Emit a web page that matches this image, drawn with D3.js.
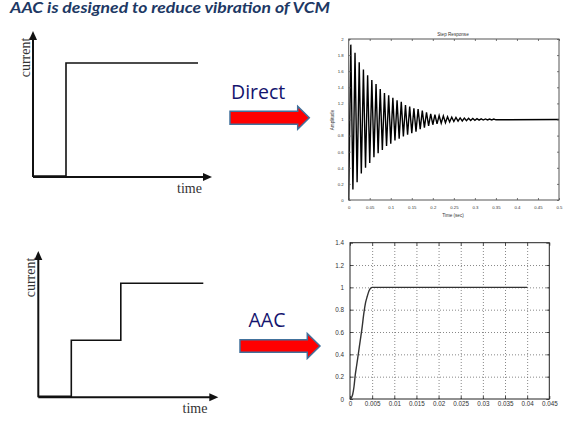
<!DOCTYPE html>
<html>
<head>
<meta charset="utf-8">
<script src="https://cdn.jsdelivr.net/npm/d3@7"></script>
<style>
body { margin: 0; background: #fff; }
svg { display: block; }
</style>
</head>
<body>
<div id="chart"></div>
<script>
// ---- data ----
var titleText = "AAC is designed to reduce vibration of VCM";

// input current shapes (time units, relative current)
var directT = [0, 1, 1, 5];
var directI = [0, 0, 1, 1];
var aacT = [0, 1, 1, 2.5, 2.5, 5];
var aacI = [0, 0, 0.5, 0.5, 1, 1];

// step response with direct drive: peaks / troughs
var stepTime = [0, 0.005, 0.01, 0.015, 0.02, 0.025, 0.03, 0.035, 0.04, 0.045, 0.05,
	0.055, 0.06, 0.065, 0.07, 0.075, 0.08, 0.085, 0.09, 0.095, 0.1,
	0.105, 0.11, 0.115, 0.12, 0.125, 0.13, 0.135, 0.14, 0.145, 0.15,
	0.155, 0.16, 0.165, 0.17, 0.175, 0.18, 0.185, 0.19, 0.195, 0.2,
	0.205, 0.21, 0.215, 0.22, 0.225, 0.23, 0.235, 0.24, 0.245, 0.25,
	0.255, 0.26, 0.265, 0.27, 0.275, 0.28, 0.285, 0.29, 0.295, 0.3,
	0.305, 0.31, 0.315, 0.32, 0.325, 0.33, 0.335, 0.34, 0.345, 0.35, 0.5];
var stepAmp = [0, 1.93, 0.13, 1.83, 0.22, 1.71, 0.33, 1.62, 0.40, 1.55, 0.46,
	1.49, 0.53, 1.44, 0.58, 1.38, 0.62, 1.33, 0.67, 1.30, 0.70,
	1.27, 0.74, 1.24, 0.76, 1.22, 0.79, 1.18, 0.81, 1.16, 0.83,
	1.14, 0.85, 1.13, 0.88, 1.11, 0.90, 1.09, 0.92, 1.07, 0.935,
	1.06, 0.945, 1.05, 0.955, 1.045, 0.96, 1.035, 0.97, 1.03, 0.975,
	1.025, 0.98, 1.02, 0.982, 1.017, 0.985, 1.014, 0.988, 1.012, 0.99,
	1.01, 0.992, 1.008, 0.993, 1.007, 0.994, 1.006, 0.995, 1.005, 0.996, 1];
var stepXTicks = [0, 0.05, 0.1, 0.15, 0.2, 0.25, 0.3, 0.35, 0.4, 0.45, 0.5];
var stepXLabels = ["0", "0.05", "0.1", "0.15", "0.2", "0.25", "0.3", "0.35", "0.4", "0.45", "0.5"];
var stepYTicks = [0, 0.2, 0.4, 0.6, 0.8, 1, 1.2, 1.4, 1.6, 1.8, 2];
var stepYLabels = ["0", "0.2", "0.4", "0.6", "0.8", "1", "1.2", "1.4", "1.6", "1.8", "2"];

// response with AAC drive
var aacRespTime = [0, 0.0003, 0.0006, 0.0009, 0.0012, 0.0015, 0.0019, 0.0023, 0.0027,
	0.0031, 0.0035, 0.0039, 0.0043, 0.0047, 0.005, 0.04];
var aacRespAmp = [0, 0.01, 0.04, 0.11, 0.22, 0.30, 0.41, 0.52, 0.63,
	0.76, 0.86, 0.92, 0.97, 0.995, 1, 1];
var aacXTicks = [0, 0.005, 0.01, 0.015, 0.02, 0.025, 0.03, 0.035, 0.04, 0.045];
var aacXLabels = ["0", "0.005", "0.01", "0.015", "0.02", "0.025", "0.03", "0.035", "0.04", "0.045"];
var aacYTicks = [0, 0.2, 0.4, 0.6, 0.8, 1, 1.2, 1.4];
var aacYLabels = ["0", "0.2", "0.4", "0.6", "0.8", "1", "1.2", "1.4"];

var svg = d3.select("#chart").append("svg")
	.attr("width", 565)
	.attr("height", 423);

svg.append("text")
	.attr("x", 10)
	.attr("y", 12.7)
	.text(titleText)
	.attr("font-family", "Lato")
	.attr("font-weight", "bold")
	.attr("font-style", "italic")
	.attr("font-size", "14.5px")
	.attr("fill", "#203864")
	.attr("textLength", 320)
	.attr("lengthAdjust", "spacingAndGlyphs");

// current vs time sketch on the left
function drawCurrent(x0, y0, xTip, yTip, times, levels, curX, curY, timeX, timeY) {
	var g = svg.append("g");
	var x = d3.scaleLinear().domain([0, 5]).range([x0, x0 + 165]);
	var y = d3.scaleLinear().domain([0, 1]).range([y0, y0 - 114]);

	g.append("line").attr("x1", x0).attr("y1", y0).attr("x2", x0).attr("y2", yTip + 6)
		.attr("stroke", "#111").attr("stroke-width", 2);
	g.append("line").attr("x1", x0).attr("y1", y0).attr("x2", xTip - 6).attr("y2", y0)
		.attr("stroke", "#111").attr("stroke-width", 2);
	g.append("path")
		.attr("d", "M" + x0 + "," + yTip + "L" + (x0 - 4) + "," + (yTip + 9) + "L" + (x0 + 4) + "," + (yTip + 9) + "Z")
		.attr("fill", "#111");
	g.append("path")
		.attr("d", "M" + xTip + "," + y0 + "L" + (xTip - 9) + "," + (y0 - 4) + "L" + (xTip - 9) + "," + (y0 + 4) + "Z")
		.attr("fill", "#111");

	var line = d3.line()
		.x(function(d, i) { return x(times[i]); })
		.y(function(d, i) { return y(levels[i]) - (levels[i] == 0 ? 1 : 0); });
	g.append("path")
		.attr("d", line(times))
		.attr("fill", "none")
		.attr("stroke", "#111")
		.attr("stroke-width", 1.6);

	g.append("text")
		.attr("transform", "translate(" + curX + "," + curY + ") rotate(-90)")
		.attr("text-anchor", "middle")
		.text("current")
		.attr("font-family", "Liberation Serif")
		.attr("font-size", "14px")
		.attr("fill", "#333");
	g.append("text")
		.attr("x", timeX)
		.attr("y", timeY)
		.text("time")
		.attr("font-family", "Liberation Serif")
		.attr("font-size", "14px")
		.attr("fill", "#333");
}

drawCurrent(33, 177, 212, 31, directT, directI, 29.5, 57.5, 177, 193);
drawCurrent(38.3, 397.3, 218.3, 251, aacT, aacI, 34.5, 277.5, 182.5, 412.5);

// block arrows with labels
function blockArrow(xl, xb, xt, yt, bh, hh, label, lx, ly) {
	var pts = [[xl, yt - bh], [xb, yt - bh], [xb, yt - hh], [xt, yt], [xb, yt + hh], [xb, yt + bh], [xl, yt + bh]];
	svg.append("polygon")
		.attr("points", pts.map(function(p) { return p.join(","); }).join(" "))
		.attr("fill", "#ff0000")
		.attr("stroke", "#41719c")
		.attr("stroke-width", 1.5);
	svg.append("text")
		.attr("x", lx)
		.attr("y", ly)
		.text(label)
		.attr("font-family", "Open Sans")
		.attr("font-size", "19.5px")
		.attr("fill", "#14146e");
}
blockArrow(230, 297.7, 309.3, 117.7, 6.5, 11.5, "Direct", 231, 99.3);
blockArrow(240, 307.3, 320, 346, 6.2, 12.5, "AAC", 248.5, 326.7);

// MATLAB-like axes frame
function frameAxes(g, x, y, xt, xl, yt, yl, fs, col, tick, padX, padY) {
	var x0 = x.range()[0], x1 = x.range()[1], y0 = y.range()[0], y1 = y.range()[1];
	g.append("g").attr("transform", "translate(0," + y0 + ")")
		.call(d3.axisBottom(x).tickValues(xt).tickFormat(function(d, i) { return xl[i]; })
			.tickSizeInner(-tick).tickSizeOuter(0).tickPadding(padX));
	g.append("g").attr("transform", "translate(" + x0 + ",0)")
		.call(d3.axisLeft(y).tickValues(yt).tickFormat(function(d, i) { return yl[i]; })
			.tickSizeInner(-tick).tickSizeOuter(0).tickPadding(padY));
	g.append("g").attr("transform", "translate(0," + y1 + ")")
		.call(d3.axisTop(x).tickValues(xt).tickFormat("").tickSizeInner(-tick).tickSizeOuter(0));
	g.append("g").attr("transform", "translate(" + x1 + ",0)")
		.call(d3.axisRight(y).tickValues(yt).tickFormat("").tickSizeInner(-tick).tickSizeOuter(0));
	g.selectAll(".domain").remove();
	g.selectAll(".tick line").attr("stroke", col).attr("stroke-width", 0.8);
	g.selectAll(".tick text")
		.attr("font-family", "Liberation Sans")
		.attr("font-size", fs + "px")
		.attr("fill", "#333");
	g.append("rect")
		.attr("x", x0).attr("y", y1)
		.attr("width", x1 - x0).attr("height", y0 - y1)
		.attr("fill", "none")
		.attr("stroke", col)
		.attr("stroke-width", 1);
}

// top right: step response, direct drive
var sx = d3.scaleLinear().domain([0, 0.5]).range([348.7, 559]);
var sy = d3.scaleLinear().domain([0, 2]).range([200, 39]);
var sg = svg.append("g");
sg.append("path")
	.attr("d", d3.line()
		.x(function(d, i) { return sx(stepTime[i]); })
		.y(function(d) { return sy(d); })(stepAmp))
	.attr("fill", "none")
	.attr("stroke", "#000")
	.attr("stroke-width", 1.4);
frameAxes(sg, sx, sy, stepXTicks, stepXLabels, stepYTicks, stepYLabels, 4.3, "#555", 2, 5.5, 5);
sg.append("text").attr("x", 453).attr("y", 35.8).attr("text-anchor", "middle")
	.text("Step Response").attr("font-family", "Liberation Sans").attr("font-size", "4.6px").attr("fill", "#333");
sg.append("text").attr("x", 453).attr("y", 217.3).attr("text-anchor", "middle")
	.text("Time (sec)").attr("font-family", "Liberation Sans").attr("font-size", "4.6px").attr("fill", "#333");
sg.append("text").attr("transform", "translate(334.3,120) rotate(-90)").attr("text-anchor", "middle")
	.text("Amplitude").attr("font-family", "Liberation Sans").attr("font-size", "4.6px").attr("fill", "#333");

// bottom right: response with AAC
var ax = d3.scaleLinear().domain([0, 0.045]).range([350, 549.3]);
var ay = d3.scaleLinear().domain([0, 1.4]).range([399, 242.7]);
var ag = svg.append("g");
ag.append("g").attr("transform", "translate(0,399)")
	.call(d3.axisBottom(ax).tickValues(aacXTicks.slice(1, -1)).tickFormat("").tickSizeInner(-(399 - 242.7)).tickSizeOuter(0))
	.call(function(g) { g.select(".domain").remove(); });
ag.append("g").attr("transform", "translate(350,0)")
	.call(d3.axisLeft(ay).tickValues(aacYTicks.slice(1, -1)).tickFormat("").tickSizeInner(-(549.3 - 350)).tickSizeOuter(0))
	.call(function(g) { g.select(".domain").remove(); });
ag.selectAll(".tick line")
	.attr("stroke", "#555")
	.attr("stroke-width", 0.7)
	.attr("stroke-dasharray", "1,2");
var fg = ag.append("g");
frameAxes(fg, ax, ay, aacXTicks, aacXLabels, aacYTicks, aacYLabels, 6.3, "#222", 3, 2.4, 6);
ag.append("path")
	.attr("d", d3.line()
		.x(function(d, i) { return ax(aacRespTime[i]); })
		.y(function(d) { return ay(d); })
		.curve(d3.curveMonotoneX)(aacRespAmp))
	.attr("fill", "none")
	.attr("stroke", "#333")
	.attr("stroke-width", 1.4);
</script>
</body>
</html>
